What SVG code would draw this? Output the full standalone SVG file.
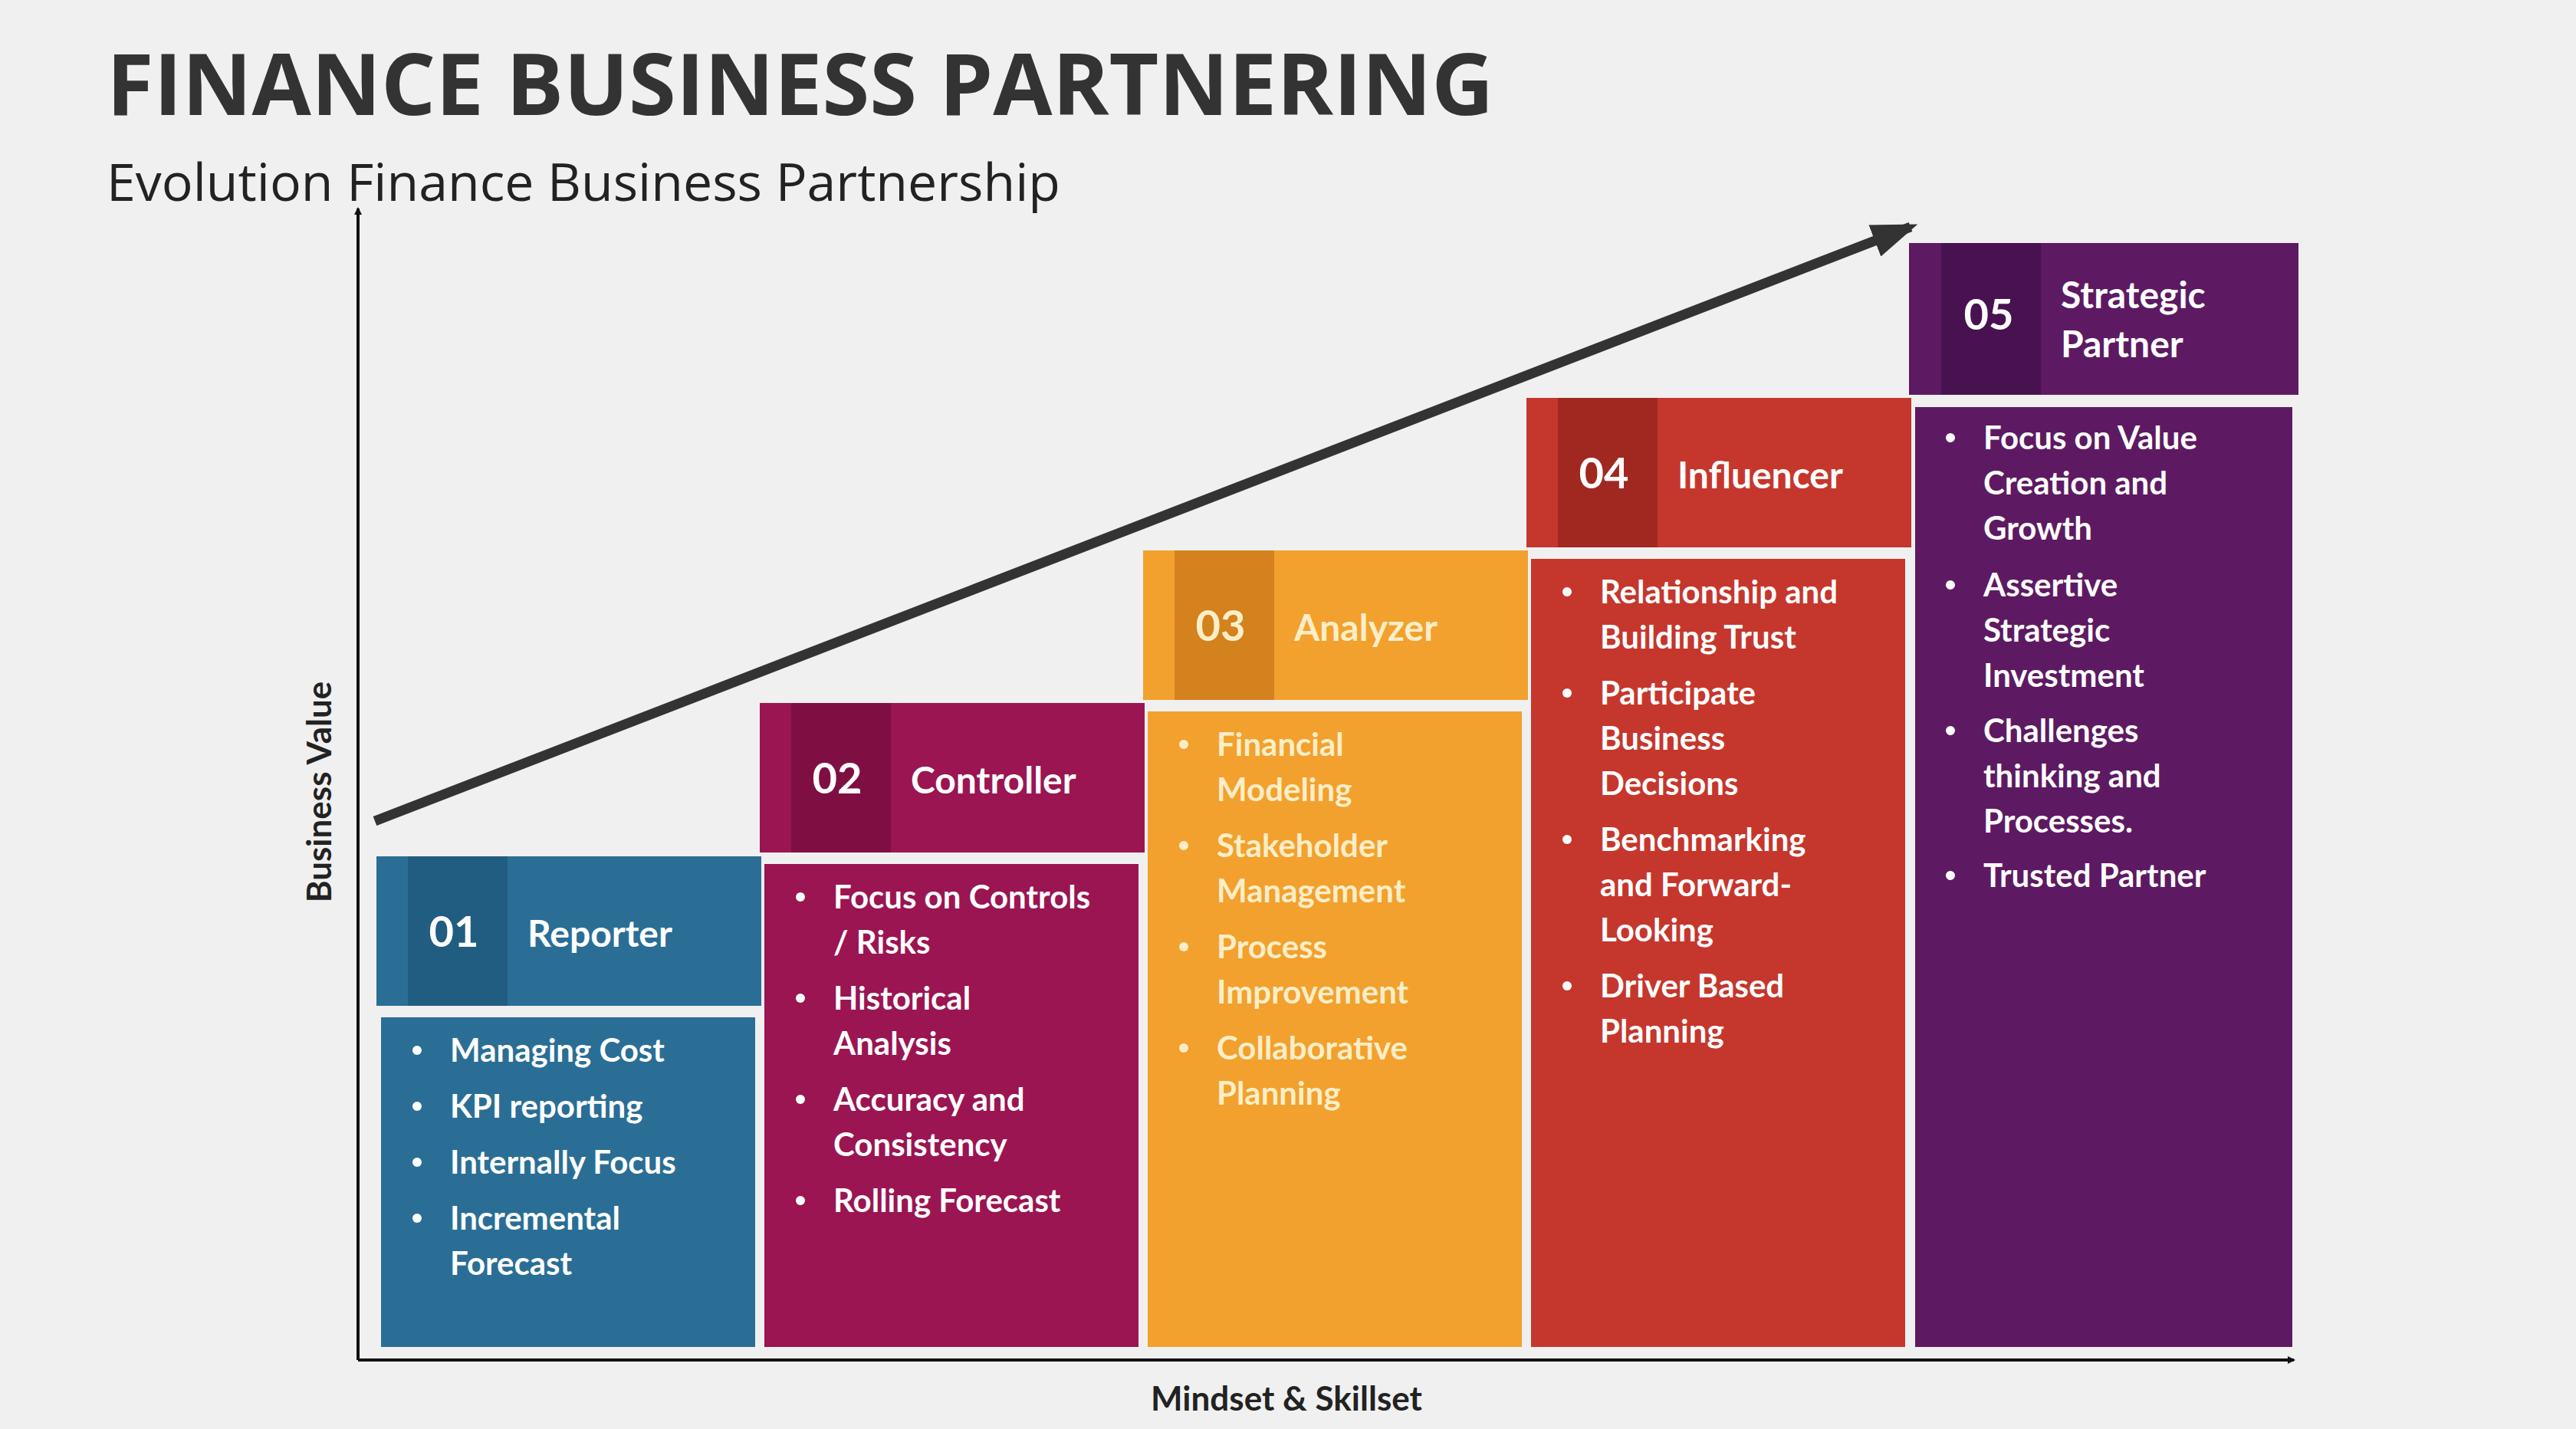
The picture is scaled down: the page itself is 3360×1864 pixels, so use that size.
<svg xmlns="http://www.w3.org/2000/svg" width="3360" height="1864" viewBox="0 0 3360 1864">
<defs>
<marker id="ax" markerWidth="10" markerHeight="10" refX="8" refY="5" orient="auto" markerUnits="userSpaceOnUse"><path d="M0,0 L10,5 L0,10 z" fill="#111"/></marker>
<marker id="big" markerWidth="60" markerHeight="44" refX="50" refY="22" orient="auto" markerUnits="userSpaceOnUse"><path d="M0,0 L60,22 L0,44 z" fill="#333"/></marker>
</defs>
<style>
text{font-family:Lato,"Open Sans","Liberation Sans",sans-serif;font-weight:bold}
.num{font-size:56px;fill:#fff;text-anchor:middle}
.ttl{font-size:48px;fill:#fff}
.b{font-size:42px;fill:#fff}
.b3{font-size:42px;fill:#fdeec8}
.dot{fill:#fff}
</style>
<rect width="3360" height="1864" fill="#f0f0f0"/>
<text x="139" y="150" font-size="112" fill="#333" style="font-family:'Open Sans',Lato,sans-serif">FINANCE BUSINESS PARTNERING</text>
<text x="139" y="262" font-size="68" fill="#222" style="font-weight:normal;font-family:'Open Sans',Lato,sans-serif">Evolution Finance Business Partnership</text>
<g id="connectors">
<line x1="467" y1="1774" x2="467" y2="272" stroke="#111" stroke-width="4" marker-end="url(#ax)"/>
<line x1="467" y1="1774" x2="2992" y2="1774" stroke="#111" stroke-width="4" marker-end="url(#ax)"/>
<line x1="489" y1="1071" x2="2492" y2="296" stroke="#333" stroke-width="13" marker-end="url(#big)"/>
</g>
<text transform="translate(432,1033) rotate(-90)" text-anchor="middle" font-size="44" fill="#222">Business Value</text>
<text x="1678" y="1840" text-anchor="middle" font-size="44" fill="#222">Mindset &amp; Skillset</text>
<g id="n1">
<rect x="491" y="1117" width="502" height="195" fill="#2a6e96"/>
<rect x="532" y="1117" width="130" height="195" fill="#215d80"/>
<text class="num" x="592" y="1235">01</text><text class="ttl" x="688" y="1235">Reporter</text>
<rect x="497" y="1327" width="488" height="430" fill="#2a6e96"/>
<g class="dot"><circle cx="544" cy="1370" r="6"/><circle cx="544" cy="1443" r="6"/><circle cx="544" cy="1516" r="6"/><circle cx="544" cy="1589" r="6"/></g>
<text class="b" x="587" y="1385">Managing Cost</text><text class="b" x="587" y="1458">KPI reporting</text><text class="b" x="587" y="1531">Internally Focus</text><text class="b" x="587" y="1604">Incremental</text><text class="b" x="587" y="1663">Forecast</text>
</g>
<g id="n2">
<rect x="991" y="917" width="502" height="195" fill="#9a1552"/>
<rect x="1032" y="917" width="130" height="195" fill="#7f0f43"/>
<text class="num" x="1092" y="1035">02</text><text class="ttl" x="1188" y="1035">Controller</text>
<rect x="997" y="1127" width="488" height="630" fill="#9a1552"/>
<g class="dot"><circle cx="1044" cy="1170" r="6"/><circle cx="1044" cy="1302" r="6"/><circle cx="1044" cy="1434" r="6"/><circle cx="1044" cy="1566" r="6"/></g>
<text class="b" x="1087" y="1185">Focus on Controls</text><text class="b" x="1087" y="1244">/ Risks</text><text class="b" x="1087" y="1317">Historical</text><text class="b" x="1087" y="1376">Analysis</text><text class="b" x="1087" y="1449">Accuracy and</text><text class="b" x="1087" y="1508">Consistency</text><text class="b" x="1087" y="1581">Rolling Forecast</text>
</g>
<g id="n3">
<rect x="1491" y="718" width="502" height="195" fill="#f2a12e"/>
<rect x="1532" y="718" width="130" height="195" fill="#d4821e"/>
<text class="num" x="1592" y="836" style="fill:#fdeec8">03</text><text class="ttl" x="1688" y="836" style="fill:#fdeec8">Analyzer</text>
<rect x="1497" y="928" width="488" height="829" fill="#f2a12e"/>
<g fill="#fdeec8"><circle cx="1544" cy="971" r="6"/><circle cx="1544" cy="1103" r="6"/><circle cx="1544" cy="1235" r="6"/><circle cx="1544" cy="1367" r="6"/></g>
<text class="b3" x="1587" y="986">Financial</text><text class="b3" x="1587" y="1045">Modeling</text><text class="b3" x="1587" y="1118">Stakeholder</text><text class="b3" x="1587" y="1177">Management</text><text class="b3" x="1587" y="1250">Process</text><text class="b3" x="1587" y="1309">Improvement</text><text class="b3" x="1587" y="1382">Collaborative</text><text class="b3" x="1587" y="1441">Planning</text>
</g>
<g id="n4">
<rect x="1991" y="519" width="502" height="195" fill="#c5372d"/>
<rect x="2032" y="519" width="130" height="195" fill="#a02820"/>
<text class="num" x="2092" y="637">04</text><text class="ttl" x="2188" y="637">Influencer</text>
<rect x="1997" y="729" width="488" height="1028" fill="#c5372d"/>
<g class="dot"><circle cx="2044" cy="772" r="6"/><circle cx="2044" cy="904" r="6"/><circle cx="2044" cy="1095" r="6"/><circle cx="2044" cy="1286" r="6"/></g>
<text class="b" x="2087" y="787">Relationship and</text><text class="b" x="2087" y="846">Building Trust</text><text class="b" x="2087" y="919">Participate</text><text class="b" x="2087" y="978">Business</text><text class="b" x="2087" y="1037">Decisions</text><text class="b" x="2087" y="1110">Benchmarking</text><text class="b" x="2087" y="1169">and Forward-</text><text class="b" x="2087" y="1228">Looking</text><text class="b" x="2087" y="1301">Driver Based</text><text class="b" x="2087" y="1360">Planning</text>
</g>
<g id="n5">
<rect x="2490" y="317" width="508" height="198" fill="#5d1a62"/>
<rect x="2532" y="317" width="130" height="198" fill="#481250"/>
<text class="num" x="2594" y="430">05</text><text class="ttl" x="2688" y="402">Strategic</text><text class="ttl" x="2688" y="466">Partner</text>
<rect x="2498" y="531" width="492" height="1226" fill="#5d1a62"/>
<g class="dot"><circle cx="2544" cy="571" r="6"/><circle cx="2544" cy="763" r="6"/><circle cx="2544" cy="953" r="6"/><circle cx="2544" cy="1142" r="6"/></g>
<text class="b" x="2587" y="586">Focus on Value</text><text class="b" x="2587" y="645">Creation and</text><text class="b" x="2587" y="704">Growth</text><text class="b" x="2587" y="778">Assertive</text><text class="b" x="2587" y="837">Strategic</text><text class="b" x="2587" y="896">Investment</text><text class="b" x="2587" y="968">Challenges</text><text class="b" x="2587" y="1027">thinking and</text><text class="b" x="2587" y="1086">Processes.</text><text class="b" x="2587" y="1157">Trusted Partner</text>
</g>
</svg>
